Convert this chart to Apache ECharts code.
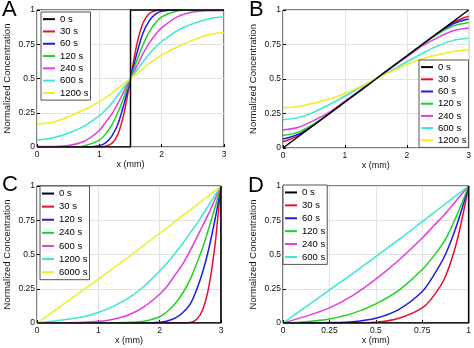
<!DOCTYPE html>
<html><head><meta charset="utf-8">
<script src="https://cdn.jsdelivr.net/npm/echarts@6/dist/echarts.min.js"></script>
<style>html,body{margin:0;padding:0;background:#fff}#c{width:474px;height:348px}</style>
</head><body><div id="c"></div>
<script>
// ---- tick labels / categories ----
const panelLetters = ['A','B','C','D'];
const yTicks = [0, 0.25, 0.5, 0.75, 1];
const xTicksABC = [0, 1, 2, 3];
const xTicksD = [0, 0.25, 0.5, 0.75, 1];
const labelsA = ['0 s','30 s','60 s','120 s','240 s','600 s','1200 s'];
const labelsB = ['0 s','30 s','60 s','120 s','240 s','600 s','1200 s'];
const labelsC = ['0 s','30 s','120 s','240 s','600 s','1200 s','6000 s'];
const labelsD = ['0 s','30 s','60 s','120 s','240 s','600 s'];

// ---- Panel A ----
const xA = [0,0.25,0.5,0.75,1,1.1,1.2,1.3,1.4,1.5,1.6,1.7,1.8,1.9,2,2.25,2.5,2.75,3];
const a0x = [0,1.5,1.5,3];
const a0y = [0,0,1,1];
const a30   = [0,0,0,0,0,0.005,0.025,0.095,0.255,0.5,0.745,0.905,0.975,0.995,1,1,1,1,1];
const a60   = [0,0,0,0,0.01,0.03,0.08,0.17,0.32,0.5,0.68,0.83,0.92,0.97,0.99,1,1,1,1];
const a120  = [0,0,0,0.007,0.05,0.095,0.16,0.255,0.37,0.5,0.63,0.745,0.84,0.905,0.95,0.993,1,1,1];
const a240  = [0.003,0.004,0.011,0.04,0.12,0.18,0.24,0.32,0.41,0.5,0.59,0.68,0.76,0.82,0.87,0.95,0.985,0.995,0.997];
const a600  = [0.05,0.065,0.10,0.15,0.23,0.27,0.32,0.38,0.44,0.5,0.56,0.62,0.68,0.73,0.77,0.85,0.90,0.935,0.95];
const a1200 = [0.165,0.18,0.22,0.27,0.33,0.36,0.39,0.43,0.465,0.5,0.535,0.57,0.61,0.64,0.67,0.73,0.78,0.82,0.835];

// ---- Panel B ----
const xB = [0,0.25,0.5,0.75,1,1.25,1.5,1.75,2,2.25,2.5,2.75,3];
const b0x = [0,3];
const b0y = [0,1];
const b30   = [0.045,0.09,0.167,0.25,0.333,0.417,0.5,0.583,0.667,0.75,0.833,0.91,0.955];
const b60   = [0.065,0.10,0.17,0.25,0.335,0.415,0.5,0.585,0.665,0.75,0.83,0.90,0.935];
const b120  = [0.09,0.115,0.175,0.25,0.335,0.415,0.5,0.585,0.665,0.75,0.825,0.885,0.91];
const b240  = [0.13,0.15,0.20,0.26,0.34,0.42,0.5,0.58,0.66,0.74,0.80,0.85,0.87];
const b600  = [0.205,0.22,0.26,0.315,0.375,0.44,0.5,0.56,0.625,0.685,0.74,0.78,0.795];
const b1200 = [0.29,0.30,0.325,0.355,0.395,0.445,0.5,0.555,0.605,0.645,0.675,0.70,0.71];

// ---- Panel C ----
const xC = [0,0.25,0.5,0.75,1,1.25,1.5,1.75,2,2.125,2.25,2.375,2.5,2.6,2.7,2.8,2.9,2.95,3];
const c0x = [0,3,3];
const c0y = [0,0,1];
const c30   = [0,0,0,0,0,0,0,0,0,0,0,0,0.003,0.025,0.095,0.26,0.56,0.78,1];
const c120  = [0,0,0,0,0,0,0,0,0.005,0.015,0.035,0.075,0.14,0.24,0.37,0.54,0.75,0.87,1];
const c240  = [0,0,0,0,0,0.002,0.005,0.013,0.046,0.084,0.14,0.217,0.32,0.43,0.55,0.69,0.84,0.92,1];
const c600  = [0,0,0.002,0.005,0.012,0.028,0.06,0.12,0.21,0.27,0.35,0.43,0.53,0.62,0.71,0.80,0.90,0.95,1];
const c1200 = [0,0.013,0.027,0.045,0.077,0.123,0.185,0.27,0.38,0.44,0.507,0.58,0.66,0.72,0.79,0.86,0.93,0.965,1];
const c6000 = [0,0.08,0.16,0.24,0.32,0.40,0.485,0.57,0.655,0.695,0.74,0.785,0.825,0.86,0.895,0.93,0.965,0.983,1];

// ---- Panel D ----
const xD = [0,0.125,0.25,0.375,0.5,0.625,0.75,0.8125,0.875,0.9375,1];
const d0x = [0,1,1];
const d0y = [0,0,1];
const d30  = [0,0,0,0,0.005,0.035,0.11,0.2,0.34,0.6,1];
const d60  = [0,0,0.003,0.01,0.035,0.1,0.23,0.35,0.5,0.72,1];
const d120 = [0,0.01,0.03,0.07,0.14,0.24,0.39,0.49,0.61,0.79,1];
const d240 = [0,0.05,0.11,0.2,0.32,0.46,0.62,0.71,0.8,0.9,1];
const d600 = [0,0.12,0.24,0.36,0.485,0.61,0.74,0.805,0.87,0.935,1];

const colors = ['#000000','#e8102e','#1c1ce8','#1ed21e','#e23ce2','#3ee6d2','#eeee22'];
const FONT = "'Liberation Sans', Arial, sans-serif";

const panels = [
  {labels: labelsA, x0: a0x, y0: a0y, xs: xA, ys: [a30,a60,a120,a240,a600,a1200], xt: xTicksABC,
   grid: {left:37, top:10, width:187, height:137}, legendPos: {left:41, top:12}, pitch: 12.3, title: {left:2, top:-1}},
  {labels: labelsB, x0: b0x, y0: b0y, xs: xB, ys: [b30,b60,b120,b240,b600,b1200], xt: xTicksABC,
   grid: {left:283, top:10, width:187, height:138}, legendPos: {left:419, top:60}, pitch: 12.2, title: {left:249, top:-1}},
  {labels: labelsC, x0: c0x, y0: c0y, xs: xC, ys: [c30,c120,c240,c600,c1200,c6000], xt: xTicksABC,
   grid: {left:37, top:186, width:184, height:137}, legendPos: {left:40, top:186}, pitch: 13.1, title: {left:2, top:174}},
  {labels: labelsD, x0: d0x, y0: d0y, xs: xD, ys: [d30,d60,d120,d240,d600], xt: xTicksD,
   grid: {left:283, top:186, width:188, height:137}, legendPos: {left:283, top:185}, pitch: 12.9, title: {left:248, top:175}}
];

const option = {
  animation: false,
  textStyle: {fontFamily: FONT},
  title: [], grid: [], xAxis: [], yAxis: [], legend: [], series: []
};

panels.forEach((p, i) => {
  const key = panelLetters[i];
  option.title.push({text: key, left: p.title.left, top: p.title.top, padding: 0,
    textStyle: {fontSize: 22, fontWeight: 'normal', color: '#000', fontFamily: FONT}});
  option.grid.push(Object.assign({show: true, borderColor: '#000', borderWidth: 1, backgroundColor: '#fff'}, p.grid));
  option.xAxis.push({
    type: 'value', gridIndex: i, min: p.xt[0], max: p.xt[p.xt.length-1], interval: p.xt[1]-p.xt[0],
    axisLine: {show: false}, axisTick: {inside: true, length: 3, lineStyle: {color: '#000'}},
    splitLine: {show: true, lineStyle: {color: '#e2e2e2', width: 1}},
    axisLabel: {fontSize: 8.5, margin: 3, color: '#111'},
    name: 'x (mm)', nameLocation: 'middle', nameGap: 12,
    nameTextStyle: {fontSize: 9, color: '#111'}
  });
  option.yAxis.push({
    type: 'value', gridIndex: i, min: yTicks[0], max: yTicks[yTicks.length-1], interval: yTicks[1]-yTicks[0],
    axisLine: {show: false}, axisTick: {inside: true, length: 3, lineStyle: {color: '#000'}},
    splitLine: {show: true, lineStyle: {color: '#e2e2e2', width: 1}},
    axisLabel: {fontSize: 8.5, margin: 2, color: '#111'},
    name: 'Normalized Concentration', nameLocation: 'middle', nameGap: 25,
    nameTextStyle: {fontSize: 9.5, color: '#111'}
  });
  const names = p.labels.map(l => key + '|' + l);
  option.legend.push({
    orient: 'vertical', left: p.legendPos.left, top: p.legendPos.top,
    icon: 'rect', itemWidth: 12, itemHeight: 2, itemGap: 0,
    padding: [1, 2, 1, 2], backgroundColor: '#fff', borderColor: '#555', borderWidth: 1,
    selectedMode: false, data: names,
    formatter: n => n.split('|')[1],
    textStyle: {fontSize: 9.5, lineHeight: p.pitch, color: '#000', fontFamily: FONT}, z: 10
  });
  option.series.push({
    name: names[0], type: 'line', xAxisIndex: i, yAxisIndex: i, symbol: 'none', smooth: false,
    data: p.x0.map((x, j) => [x, p.y0[j]]),
    lineStyle: {width: 1.5, color: colors[0]}, itemStyle: {color: colors[0]}, z: 3
  });
  p.ys.forEach((ys, k) => {
    option.series.push({
      name: names[k+1], type: 'line', xAxisIndex: i, yAxisIndex: i, symbol: 'none',
      smooth: 0.3,
      data: p.xs.map((x, j) => [x, ys[j]]),
      lineStyle: {width: 1.5, color: colors[k+1]}, itemStyle: {color: colors[k+1]}, z: 2
    });
  });
});

const chart = echarts.init(document.getElementById('c'), null, {renderer: 'canvas'});
chart.setOption(option);
</script>
</body></html>
